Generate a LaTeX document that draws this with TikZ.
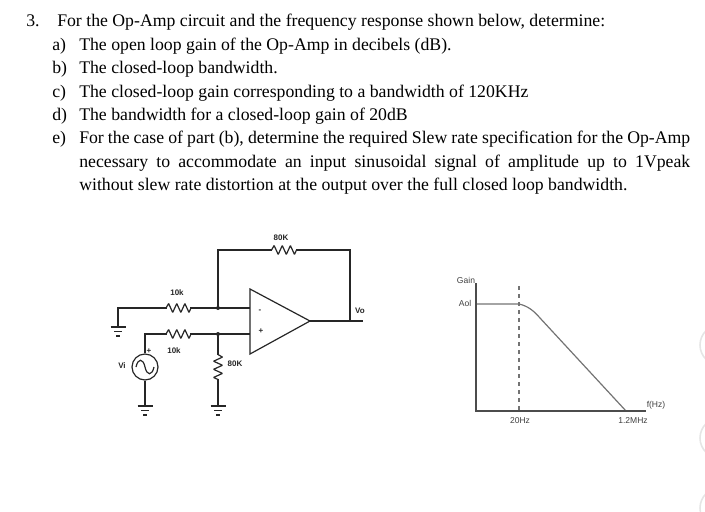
\documentclass[tikz,border=0pt]{standalone}
\usepackage{fontspec}
\setmainfont{Liberation Serif}
\setsansfont{Liberation Sans}
\usepackage[american]{circuitikz}
\ctikzset{bipoles/thickness=1, resistors/scale=0.56}
\tikzset{
    question/.style={anchor=base west,inner sep=0pt,font=\fontsize{13.3}{15}\selectfont},
    circlabel/.style={inner sep=0pt,text=black!85,font=\sffamily\bfseries\fontsize{6}{7}\selectfont},
    graphlabel/.style={inner sep=0pt,text=black!75,font=\sffamily\fontsize{6.4}{7}\selectfont},
    wire/.style={line width=0.9pt,black!85},
    plotline/.style={line width=0.9pt,black!55},
    badge/.style={line width=1.2pt,black!10},
    gndsym/.pic={
        \draw[wire] (-7.5,0) -- (7.5,0);
        \draw[wire] (-4,4.5) -- (4,4.5);
        \draw[wire] (-2,9) -- (2,9);
    }
}

\begin{document}
\begin{tikzpicture}[x=0.75pt,y=-0.75pt]
    \useasboundingbox (0,0) rectangle (705,511);
    \clip (0,0) rectangle (705,511);
    % question text
    \node[question] (qno) at (26,26) {3.};
    \node[question] (qhead) at (57,26) {For the Op-Amp circuit and the frequency response shown below, determine:};
    \node[question] (qa) at (52,50) {a)};
    \node[question] (qatext) at (79,50) {The open loop gain of the Op-Amp in decibels (dB).};
    \node[question] (qb) at (52,73) {b)};
    \node[question] (qbtext) at (79,73) {The closed-loop bandwidth.};
    \node[question] (qc) at (52,97) {c)};
    \node[question] (qctext) at (79,97) {The closed-loop gain corresponding to a bandwidth of 120KHz};
    \node[question] (qd) at (52,120) {d)};
    \node[question] (qdtext) at (79,120) {The bandwidth for a closed-loop gain of 20dB};
    \node[question] (qe) at (52,143) {e)};
    \node[question] (qetext) at (79,143) {\makebox[458.25pt][s]{For the case of part (b), determine the required Slew rate specification for the Op-Amp}};
    \node[question] (qeline) at (79,167) {\makebox[458.25pt][s]{necessary to accommodate an input sinusoidal signal of amplitude up to 1Vpeak}};
    \node[question] (qelast) at (79,190) {without slew rate distortion at the output over the full closed loop bandwidth.};

    % op amp
    \coordinate (ampA) at (250,289);
    \coordinate (ampB) at (250,354);
    \coordinate (ampout) at (310,321);
    \draw[wire] (ampA) -- (ampB) -- (ampout) -- cycle;
    \node[circlabel] (minus) at (260,311) {-};
    \node[circlabel] (plus) at (261,331) {+};

    % circuit
    \coordinate (gndleft) at (118,308);
    \coordinate (gndleftend) at (118,327);
    \coordinate (rinA) at (166,308);
    \coordinate (rinB) at (191,308);
    \coordinate (inv) at (218,308);
    \coordinate (invamp) at (250,308);
    \coordinate (srctop) at (145,334);
    \coordinate (rplusA) at (166,334);
    \coordinate (rplusB) at (191,334);
    \coordinate (srcend) at (145,406);
    \coordinate (noninv) at (218,334);
    \coordinate (noninvamp) at (250,334);
    \coordinate (rgA) at (218,354);
    \coordinate (rgB) at (218,380);
    \coordinate (rgend) at (218,406);
    \coordinate (fbleft) at (218,250);
    \coordinate (rfbA) at (271,250);
    \coordinate (rfbB) at (297,250);
    \coordinate (fbright) at (350,250);
    \coordinate (fbout) at (350,321);
    \coordinate (outend) at (363,321);
    \node[circle,draw,wire,minimum size=19.5pt,inner sep=0pt] (src) at (145,367) {};

    \draw[wire] (gndleftend) -- (gndleft) -- (rinA) to[R] (rinB) -- (invamp);
    \draw[wire] (inv) -- (fbleft) -- (rfbA) to[R] (rfbB) -- (fbright) -- (fbout);
    \draw[wire] (ampout) -- (outend);
    \draw[wire] (src.north) -- (srctop) -- (rplusA) to[R] (rplusB) -- (noninvamp);
    \draw[wire] (noninv) -- (rgA) to[R] (rgB) -- (rgend);
    \draw[wire] (src.south) -- (srcend);
    \draw[wire] (136,367) .. controls (138,358) and (143,358) .. (145,367)
        .. controls (147,376) and (152,376) .. (154,367);
    \pic at (gndleftend) {gndsym};
    \pic at (srcend) {gndsym};
    \pic at (rgend) {gndsym};
    \fill[black!85] (inv) circle (1.5pt);
    \fill[black!85] (noninv) circle (1.5pt);

    \node[circlabel] (rfb) at (281,238) {80K};
    \node[circlabel] (rin) at (177,293) {10k};
    \node[circlabel] (rplus) at (174,351) {10k};
    \node[circlabel] (rg) at (235,364) {80K};
    \node[circlabel] (vo) at (360,311) {Vo};
    \node[circlabel] (vi) at (122,366) {Vi};
    \node[circlabel] (srcplus) at (149,351) {+};

    % frequency response
    \coordinate (origin) at (476,411);
    \coordinate (ytop) at (476,283);
    \coordinate (xend) at (646,411);
    \coordinate (aol) at (476,304);
    \coordinate (corner) at (519,304);
    \coordinate (knee) at (540,318);
    \coordinate (unity) at (626,411);
    \coordinate (dashtop) at (519,286);
    \coordinate (dashbot) at (519,411);
    \draw[plotline,dashed] (dashtop) -- (dashbot);
    \draw[plotline] (aol) -- (corner) .. controls (528,306) and (534,311) .. (knee) -- (unity);
    \draw[line width=1.1pt,black!70] (ytop) -- (origin) -- (xend);
    \node[graphlabel] (gain) at (466,280) {Gain};
    \node[graphlabel] (aollabel) at (465,303) {Aol};
    \node[graphlabel] (fz) at (520,421) {20Hz};
    \node[graphlabel] (fu) at (633,421) {1.2MHz};
    \node[graphlabel] (fhz) at (656,405) {f(Hz)};

    % cut off circles on the edge
    \draw[badge] (720,345) circle (20);
    \draw[badge] (720,438) circle (20);
    \draw[badge] (720,508) circle (20);
\end{tikzpicture}
\end{document}
